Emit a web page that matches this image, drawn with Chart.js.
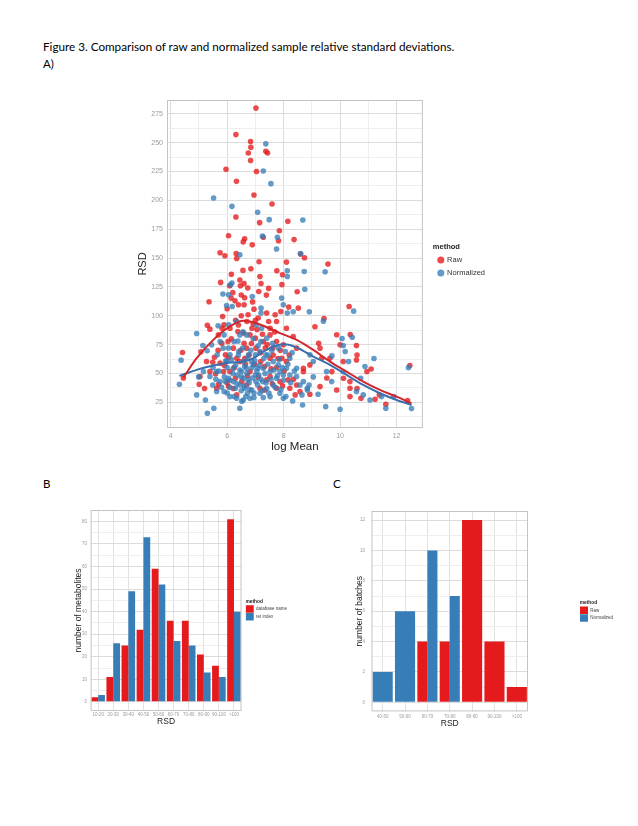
<!DOCTYPE html>
<html>
<head>
<meta charset="utf-8">
<script src="https://cdn.jsdelivr.net/npm/chart.js@4.4.0/dist/chart.umd.min.js"></script>
<style>
  body { margin: 0; background: #fff; width: 638px; height: 826px; position: relative; overflow: hidden; }
  .txt { position: absolute; white-space: nowrap; color: #000; font-family: Lato, "Liberation Sans", sans-serif; font-size: 11.5px; line-height: 12px; }
  canvas { position: absolute; }
</style>
</head>
<body>
<div class="txt" id="figTitle" style="left:43px;top:40px">Figure 3. Comparison of raw and normalized sample relative standard deviations.</div>
<div class="txt" style="left:43px;top:58px">A)</div>
<div class="txt" style="left:43px;top:478px">B</div>
<div class="txt" style="left:333px;top:478px">C</div>

<canvas id="chartA" width="375" height="375" style="left:120px;top:90px"></canvas>
<canvas id="chartB" width="237" height="235" style="left:60px;top:500px"></canvas>
<canvas id="chartC" width="283" height="235" style="left:340px;top:500px"></canvas>

<script>
// ---- A) scatter: log mean vs RSD ----
const rawLogMean = [7.02,6.31,6.83,6.84,6.75,6.83,7.04,5.96,7.37,7.43,6.33,6.95,7.59,6.31,7.15,8.15,7.28,6.05,6.62,6.57,
  6.89,7.82,8.37,7.85,5.75,5.92,6.32,6.34,7.13,8.1,8.74,9.57,8.6,7.76,7.96,7.16,6.56,6.84,5.77,6.09,
  6.47,6.73,7.47,7.94,8.48,5.36,6.14,7.12,7.39,6.62,6.95,6.4,5.84,7.9,8.18,8.52,10.32,9.43,9.11,9.88,
  10.36,10.58,10.0,10.6,10.58,10.12,10.35,10.6,11.1,10.95,10.74,11.24,11.62,12.47,12.39,5.3,5.39,5.07,5.04,5.01,
  5.2,4.42,4.45,5.49,5.69,5.89,5.82,5.81,5.94,6.1,6.05,6.22,6.1,6.38,6.6,6.81,7.0,7.02,7.35,7.52,
  7.75,8.1,8.34,8.46,8.1,7.75,7.52,7.87,8.22,8.41,8.58,8.7,8.93,8.93,9.29,9.24,9.35,9.64,9.71,9.53,
  9.29,10.11,10.35,9.88,10.35,11.39,7.16,7.33,6.69,6.81,6.63,6.34,7.19,7.52,6.74,7.4,7.7,6.28,6.6,5.75,
  5.59,5.7,7.96,8.16,7.4,7.94,7.63,6.45,6.22,6.03,7.28,6.69,6.88,7.52,7.75,7.99,8.7,8.46,7.75,6.29,
  6.34,5.63,5.39,5.87,5.27,6.2,6.5,6.0,6.7,6.3,7.1,6.9,6.45,6.6,6.15,7.2,
  5.9,6.05,6.15,6.25,6.4,6.48,6.52,6.58,6.65,6.72,6.78,6.86,6.92,6.97,7.06,7.1,7.18,7.25,7.32,7.42,
  7.47,7.56,7.62,7.68,7.8,7.88,8.02,8.2,8.35,5.68,5.55,6.0,6.5,7.0,7.6];
const rawRSD = [280,257,251,246,241,234.5,225,227,242.6,241,216.5,204.7,196.9,185.6,180.7,181.8,168,169.4,166.8,164,
  161.6,165,166,173.7,154.6,152,154,149.7,146.8,146.5,150.3,144.8,153.5,139,135.5,134,139.3,140.7,128.9,126,
  126,124,123.7,127,120.8,112.1,115.3,121,117.9,115.6,105.7,109.5,99.4,103.7,107.5,106.6,108,97.6,90.4,83.5,
  83.7,74.2,74.8,66,61.7,45.8,37.2,37,53.9,51.6,28.5,27.6,23.3,56.8,26.4,91.8,88.4,68.7,47.3,40.6,
  37,68.1,46.1,59.7,83.4,92.1,89.2,76.2,66.1,51.6,38.6,37,89.2,86.3,76.2,83.4,80.6,71.9,71.9,83.4,
  95,89.2,82,71.9,60.3,55.1,47.3,42.9,37.2,31.4,34.3,51.6,57.4,31.9,71.9,76.2,63.2,63.2,51.6,46.1,
  38.6,60.3,42.9,35.7,29.9,31.4,37.2,35.7,40,51.6,63.2,63.2,60.3,63.2,100.8,102.3,100.8,113,109.5,58.9,
  49.6,40.6,39.2,44.4,44.4,63.2,66,60.3,71.9,77.7,77.7,71.9,89.2,89.2,77.7,74.8,54.5,40,37.2,45.8,
  31.4,37.2,51.6,51.6,60.3,120,118,106,95,96,98,112,131,128,136,128,
  57,64,80,55,92,70,43,85,58,48,66,76,93,58,88,47,68,84,56,75,
  95,54,72,86,63,70,52,66,45,70,64,42,100,96,41];

const normLogMean = [7.37,7.28,7.55,5.52,6.17,7.08,7.49,8.68,7.25,7.75,7.78,6.45,8.6,8.13,8.73,9.47,8.13,8.75,6.17,6.12,
  5.85,6.05,6.89,7.93,5.98,6.18,7.2,7.99,8.13,8.34,8.91,10.48,7.2,9.41,4.92,5.14,5.68,6.06,6.56,6.69,
  10.07,10.43,10.3,10.11,11.2,10.88,10.73,10.18,9.71,8.93,9.05,9.52,9.7,10.11,10.58,10.82,11.06,11.62,11.47,10.0,
  9.49,8.67,8.32,8.84,9.22,7.99,7.87,7.52,7.28,6.95,6.57,6.45,6.52,6.34,6.1,5.89,5.63,5.53,5.3,5.23,
  4.92,4.31,4.37,4.99,5.16,5.39,5.63,5.75,5.49,5.29,5.45,5.65,5.86,5.98,6.1,6.22,6.05,5.94,6.22,6.36,
  6.45,6.57,6.74,6.69,6.57,6.41,6.76,6.86,7.0,7.02,6.87,6.72,7.12,7.28,7.52,7.26,7.4,7.63,7.75,7.87,
  7.99,7.81,7.63,7.37,7.16,7.0,7.19,7.4,7.61,7.82,8.06,8.22,8.46,8.46,8.7,8.84,8.58,7.04,7.22,6.34,
  6.45,6.24,5.75,5.89,6.93,7.09,6.51,6.29,6.1,6.62,6.81,7.16,8.22,8.1,9.05,8.9,8.65,12.42,12.53,11.9,
  5.6,5.7,5.8,5.9,6.0,6.0,6.1,6.15,6.2,6.25,6.3,6.35,6.4,6.45,6.5,6.5,6.55,6.6,6.62,6.66,
  6.7,6.72,6.78,6.8,6.84,6.88,6.9,6.95,6.98,7.05,7.08,7.1,7.14,7.2,7.24,7.3,7.34,7.38,7.44,7.48,
  7.55,7.58,7.66,7.7,7.78,7.85,7.9,7.95,8.0,8.08,8.15,8.25,8.3,8.38,6.05,5.95,6.38,6.92,7.45,5.5];
const normRSD = [249,225.5,214.5,202,194.8,189.6,183.3,183,169,157.8,168,152.9,153.8,139,138.4,138.1,134,123,128.3,126.9,
  118.8,118.2,116.7,115.3,108.9,108,106.6,109.5,102.3,103.4,103.4,104,102.3,95.3,84.6,74.2,91.3,92.1,86.1,83.4,
  80.3,81.4,60.3,74.2,62.9,56,45.8,69,65.2,66.1,60.3,51.6,42.9,51.6,34.3,31.4,27,19.8,29.9,19,
  21.2,22.7,26.2,35.7,31.9,28.5,32.8,29.9,29.1,29.1,27,19.8,25.9,28.5,29.9,34.3,34.3,19.8,15.5,27,
  31.4,40.6,61.5,47,51.6,47.3,51.6,42.9,40,69.6,74.8,66.1,71.9,60.3,66.1,54.5,45.8,42.9,42.9,48.7,
  40,45.8,44.4,54.5,60.3,69,66.1,60.3,48.7,42.9,35.7,32.8,48.7,54.5,51.6,42.9,37.2,40,45.8,51.6,
  48.7,57.4,60.3,66.1,69,66.1,77.7,80.6,76.2,71.9,69,63.2,54.5,47.3,42.9,37.2,40,92.1,89.2,95,
  83.4,77.7,77.7,83.4,57.4,54.5,51.6,37.2,37.8,37.2,28.5,32.8,48.7,54.5,47,40,31.4,55,19.5,30,
  45,52,38,47,55,33,44,62,50,30,57,41,66,53,35,47,72,39,56,30,
  50,63,42,36,70,55,46,33,61,52,40,74,57,45,35,63,50,42,58,33,
  45,70,53,38,48,62,36,55,44,30,58,42,68,52,72,61,78,80,66,55];

// loess-like smooth curves
const rawSmoothX = [4.45,4.92,5.51,6.1,6.57,6.81,7.28,7.87,8.46,9.05,9.64,10.23,10.82,11.41,12.0,12.53];
const rawSmoothY = [46.4,63.2,79.1,90.7,95.6,95,91.3,84.9,79.1,70.4,60.3,51.6,42.9,35.7,29.9,24.1];
const normSmoothX = [4.31,4.92,5.51,6.1,6.57,6.93,7.28,7.75,8.05,8.46,9.05,9.64,10.23,10.82,11.41,12.0,12.53];
const normSmoothY = [47.9,53.1,56.8,59.4,60.3,63.2,69,74.2,75.3,72.5,64.6,57.4,48.7,40,32.8,27,22.7];

// ---- B) metabolites per RSD bin ----
const rsdBinsB = ['10-20','20-30','30-40','40-50','50-60','60-70','70-80','80-90','90-100','>100'];
const dbNameCounts = [2,11,25,32,59,36,36,21,16,81];
const retIndexCounts = [3,26,49,73,52,27,25,13,11,40];

// ---- C) batches per RSD bin ----
const rsdBinsC = ['40-50','50-60','60-70','70-80','80-90','90-100','>100'];
const rawBatchCounts = [null,null,4,4,12,4,1];
const normBatchCounts = [2,6,10,7,null,null,null];

const RED = '#e41a1c';
const BLUE = '#377eb8';
const TICK_GREY = '#9b9b9b';

Chart.defaults.font.family = '"Liberation Sans", Arial, sans-serif';
Chart.defaults.animation = false;
Chart.defaults.plugins.tooltip.enabled = false;

const zip = (xs, ys) => xs.map((x, i) => ({x: x, y: ys[i]}));
const isMult = (v, s) => Math.abs(v / s - Math.round(v / s)) < 1e-6;

function gridColor(major, minor) {
  return ctx => {
    const v = ctx.tick.value;
    if (isMult(v, major)) return '#dcdcdc';
    if (isMult(v, minor)) return '#eeeeee';
    return 'rgba(0,0,0,0)';
  };
}

const panelBorder = {
  id: 'panelBorder',
  afterDatasetsDraw(chart) {
    const {ctx, chartArea: a} = chart;
    ctx.save();
    ctx.strokeStyle = '#c4c4c4';
    ctx.lineWidth = 1;
    ctx.strokeRect(a.left + 0.5, a.top + 0.5, a.width - 1, a.height - 1);
    ctx.restore();
  }
};

// slide the legend away from the panel (the room comes from layout.padding.right)
const legendGap = {
  id: 'legendGap',
  afterLayout(chart, args, opts) {
    const l = chart.legend;
    l.left += opts.dx;
    l.right += opts.dx;
  }
};

const chartA = new Chart(document.getElementById('chartA'), {
  type: 'scatter',
  data: {
    datasets: [
      {label: 'Raw', data: zip(rawLogMean, rawRSD), backgroundColor: 'rgba(228,26,28,0.78)',
        pointRadius: 2.8, pointBorderWidth: 0, order: 2},
      {label: 'Normalized', data: zip(normLogMean, normRSD), backgroundColor: 'rgba(55,126,184,0.78)',
        pointRadius: 2.8, pointBorderWidth: 0, order: 1},
      {type: 'line', label: 'raw smooth', data: zip(rawSmoothX, rawSmoothY), borderColor: '#d2262b',
        borderWidth: 2, pointRadius: 0, fill: false, cubicInterpolationMode: 'monotone', order: 0},
      {type: 'line', label: 'normalized smooth', data: zip(normSmoothX, normSmoothY), borderColor: '#3a6fae',
        borderWidth: 2, pointRadius: 0, fill: false, cubicInterpolationMode: 'monotone', order: 0}
    ]
  },
  options: {
    responsive: false,
    layout: {padding: {top: 10, left: 0, right: 10, bottom: 0}},
    scales: {
      x: {
        type: 'linear', min: 3.87, max: 12.93,
        ticks: {stepSize: 1, includeBounds: false, autoSkip: false, maxRotation: 0,
          callback: v => isMult(v, 2) ? v : '', color: TICK_GREY, font: {size: 7}, padding: 4},
        grid: {color: gridColor(2, 1), drawTicks: false},
        border: {display: false},
        title: {display: true, text: 'log Mean', color: '#222', font: {size: 11.5}, padding: {top: 0, bottom: 11}},
        afterFit: s => { s.height = 37; }
      },
      y: {
        type: 'linear', min: 2.7, max: 287,
        ticks: {stepSize: 12.5, includeBounds: false, autoSkip: false,
          callback: v => isMult(v, 25) ? v : '', color: TICK_GREY, font: {size: 7}, padding: 4},
        grid: {color: gridColor(25, 12.5), drawTicks: false},
        border: {display: false},
        title: {display: true, text: 'RSD', color: '#222', font: {size: 11}, padding: {top: 16, bottom: 0}},
        afterFit: s => { s.width = 47; }
      }
    },
    plugins: {
      legendGap: {dx: 10},
      legend: {
        position: 'right',
        align: 'start',
        title: {display: true, text: 'method', position: 'start', color: '#222',
          font: {size: 7.5, weight: 'bold', lineHeight: 1}, padding: {top: 143.25, bottom: 0}},
        labels: {usePointStyle: true, pointStyle: 'circle', boxWidth: 5, boxHeight: 5, padding: 5.5,
          color: '#333', font: {size: 7.5},
          filter: item => item.datasetIndex < 2,
          sort: (a, b) => a.datasetIndex - b.datasetIndex}
      }
    }
  },
  plugins: [panelBorder, legendGap]
});

function barScales(yMax, yStep, labelStep, yTitle, yAxisW, yTitlePad, yTickPad, xAxisH, xTickPad, xTitlePad) {
  return {
    x: {
      offset: true,
      ticks: {autoSkip: false, maxRotation: 0, color: TICK_GREY, font: {size: 4.5}, padding: xTickPad},
      grid: {offset: false, color: '#e2e2e2', drawTicks: false},
      border: {display: false},
      title: {display: true, text: 'RSD', color: '#222', font: {size: 8.5}, padding: {top: 0, bottom: xTitlePad}},
      afterFit: s => { s.height = xAxisH; }
    },
    y: {
      min: -0.05 * yMax, max: 1.05 * yMax,
      ticks: {stepSize: yStep, includeBounds: false, autoSkip: false,
        callback: v => (v >= 0 && isMult(v, labelStep)) ? v : '', color: TICK_GREY, font: {size: 4.5}, padding: yTickPad},
      grid: {color: gridColor(labelStep, yStep), drawTicks: false},
      border: {display: false},
      title: {display: true, text: yTitle, color: '#222', font: {size: 8.5}, padding: {top: yTitlePad, bottom: 0}},
      afterFit: s => { s.width = yAxisW; }
    }
  };
}

function barLegend(titleTop) {
  return {
    position: 'right',
    align: 'start',
    title: {display: true, text: 'method', position: 'start', color: '#222',
      font: {size: 4.8, weight: 'bold'}, padding: {top: titleTop, bottom: 0.3}},
    labels: {boxWidth: 8, boxHeight: 7.5, padding: 0.2, color: '#444', font: {size: 4.5},
      filter: item => item.datasetIndex < 2}
  };
}

const chartB = new Chart(document.getElementById('chartB'), {
  type: 'bar',
  data: {
    labels: rsdBinsB,
    datasets: [
      {label: 'database name', data: dbNameCounts, backgroundColor: RED},
      {label: 'ret index', data: retIndexCounts, backgroundColor: BLUE}
    ]
  },
  options: {
    responsive: false,
    layout: {padding: {top: 10, left: 0, right: 4, bottom: 0}},
    datasets: {bar: {categoryPercentage: 0.9, barPercentage: 1, borderWidth: 0}},
    scales: barScales(81, 5, 10, 'number of metabolites', 30.6, 14, 3.5, 24, 1.5, 8),
    plugins: {legendGap: {dx: 4}, legend: barLegend(89.1)}
  },
  plugins: [panelBorder, legendGap]
});

// bins with only one method get a full-width bar, as in a dodged ggplot bar chart
const pairedC = rawBatchCounts.map((r, i) => r !== null && normBatchCounts[i] !== null);
const chartC = new Chart(document.getElementById('chartC'), {
  type: 'bar',
  data: {
    labels: rsdBinsC,
    datasets: [
      {label: 'Raw', data: rawBatchCounts.map((v, i) => pairedC[i] ? null : v), backgroundColor: RED, grouped: false},
      {label: 'Normalized', data: normBatchCounts.map((v, i) => pairedC[i] ? null : v), backgroundColor: BLUE, grouped: false},
      {label: 'Raw', data: rawBatchCounts.map((v, i) => pairedC[i] ? v : null), backgroundColor: RED},
      {label: 'Normalized', data: normBatchCounts.map((v, i) => pairedC[i] ? v : null), backgroundColor: BLUE}
    ]
  },
  options: {
    responsive: false,
    layout: {padding: {top: 11, left: 0, right: 51.8, bottom: 0}},
    datasets: {bar: {categoryPercentage: 0.9, barPercentage: 1, borderWidth: 0}},
    scales: barScales(12, 1, 2, 'number of batches', 31.5, 15, 6.5, 23.6, 3, 6.6),
    plugins: {legendGap: {dx: 51.8}, legend: barLegend(89.3)}
  },
  plugins: [panelBorder, legendGap]
});

// fit the caption to the width it has in the figure
const cap = document.getElementById('figTitle');
cap.style.fontSize = (11.5 * 412 / cap.offsetWidth).toFixed(2) + 'px';
</script>
</body>
</html>
